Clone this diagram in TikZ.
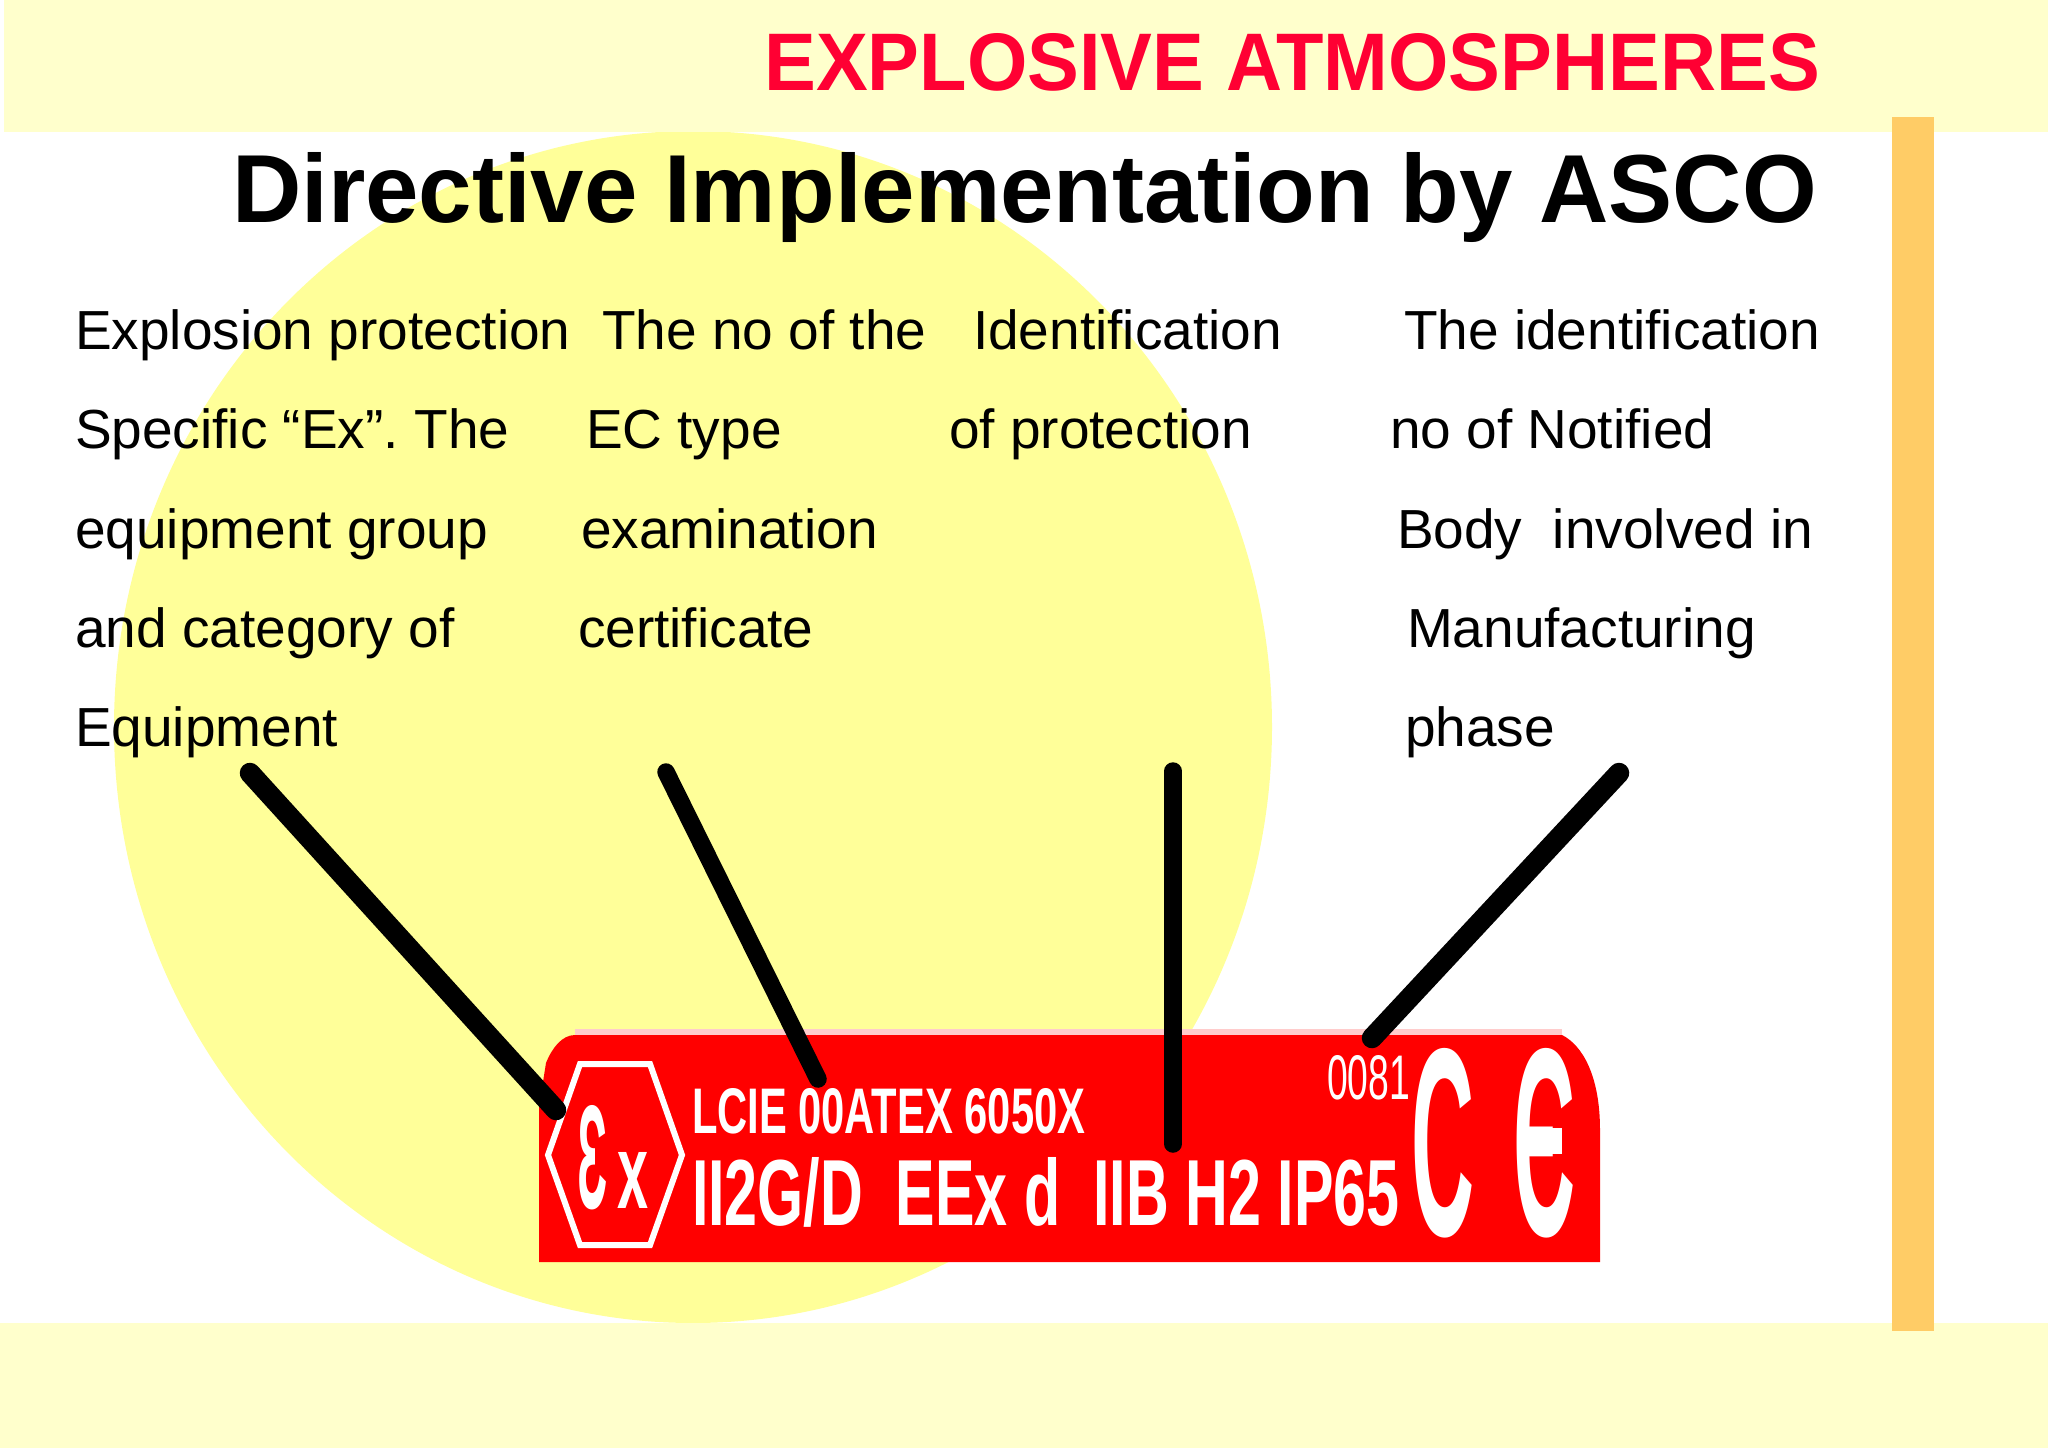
\documentclass[tikz,border=0pt]{standalone}
\usepackage{fontspec}
\setmainfont{Liberation Sans}
\definecolor{BandYellow}{HTML}{FFFFCC}
\definecolor{DiscYellow}{HTML}{FFFF99}
\definecolor{BarOrange}{HTML}{FFCC66}
\definecolor{TitleRed}{HTML}{FF0033}
\definecolor{PlateRed}{HTML}{FF0000}
\definecolor{PlatePink}{HTML}{FFCCCC}
\newcommand{\platetext}[3]{\resizebox{#1cm}{#2cm}{#3}}
\frenchspacing
\begin{document}
\begin{tikzpicture}[
      x=0.01cm, y=-0.01cm,
      every node/.style={inner sep=0pt, outer sep=0pt},
      heading/.style={anchor=base east, font=\bfseries, text=TitleRed},
      subheading/.style={anchor=base east, font=\bfseries},
      bodytext/.style={anchor=base west, font=\fontsize{15.65pt}{18pt}\selectfont},
      marking/.style={anchor=north west, text=white},
      pointer/.style={line width=0.175cm, black, line cap=round},
      heavypointer/.style={pointer, line width=0.205cm}
    ]
      \useasboundingbox (0,0) rectangle (2048,1448);

      % Backdrop
      \fill[DiscYellow] (693,727) ellipse [x radius=579, y radius=596];
      \fill[BandYellow] (4,0) rectangle (2048,132);
      \fill[BandYellow] (0,1323) rectangle (2048,1448);
      \fill[BarOrange] (1892,117) rectangle (1934,1331);

      % Titles
      \node[heading] (heading) at (1820,90) {\platetext{10.55}{0.57}{EXPLOSIVE ATMOSPHERES}};
      \node[subheading] (subheading) at (1817,222) {\platetext{15.84}{0.70}{Directive Implementation by ASCO}};

      % Column one
      \node[bodytext] (groupa) at (75,349) {Explosion protection};
      \node[bodytext] (groupb) at (75,448) {Specific “Ex”. The};
      \node[bodytext] (groupc) at (75,548) {equipment group};
      \node[bodytext] (groupd) at (75,647) {and category of};
      \node[bodytext] (groupe) at (75,746) {Equipment};

      % Column two
      \node[bodytext] (certa) at (602,349) {The no of the};
      \node[bodytext] (certb) at (586,448) {EC type};
      \node[bodytext] (certc) at (581,548) {examination};
      \node[bodytext] (certd) at (578,647) {certificate};

      % Column three
      \node[bodytext] (prota) at (973,349) {Identification};
      \node[bodytext] (protb) at (949,448) {of protection};

      % Column four
      \node[bodytext] (bodya) at (1404,349) {The identification};
      \node[bodytext] (bodyb) at (1390,448) {no of Notified};
      \node[bodytext] (bodyc) at (1397,548) {Body\ \ involved in};
      \node[bodytext] (bodyd) at (1407,647) {Manufacturing};
      \node[bodytext] (bodye) at (1405,746) {phase};

      % Plate
      \fill[PlatePink] (575,1029) rectangle (1562,1036);
      \fill[PlateRed] (539,1262) -- (539,1107) -- (546,1063) .. controls (552,1048) and (562,1035) .. (575,1035)
        -- (1562,1035) .. controls (1582,1045) and (1600,1075) .. (1600,1130) -- (1600,1262) -- cycle;
      \draw[white, line width=0.06cm] (548,1155) -- (580,1064) -- (650,1064) -- (682,1155)
        -- (650,1245) -- (580,1245) -- cycle;
      \node[marking] (exmark) at (577,1105) {\platetext{0.30}{1.03}{\bfseries Ɛ}};
      \node[marking] (exx) at (617,1152) {\platetext{0.31}{0.56}{\bfseries x}};
      \node[marking] (certno) at (692,1088) {\platetext{3.93}{0.45}{\bfseries LCIE 00ATEX 6050X}};
      \node[marking] (codes) at (692,1157) {\platetext{7.07}{0.68}{\bfseries II2G/D\ \ EEx d\ \ IIB H2 IP65}};
      \node[marking] (bodyno) at (1327,1055) {\platetext{0.83}{0.44}{0081}};
      \node[marking] (cemarkc) at (1411,1048) {\platetext{0.63}{1.87}{\bfseries C}};
      \node[marking] (cemarke) at (1513,1048) {\platetext{0.62}{1.87}{\bfseries Є}};
      \fill[white] (1530,1128) rectangle (1562,1154);

      % Pointers
      \coordinate (starta) at (250,773);
      \coordinate (startb) at (666,772);
      \coordinate (startc) at (1173,771);
      \coordinate (startd) at (1619,773);
      \coordinate (enda) at (556,1110);
      \coordinate (endb) at (818,1079);
      \coordinate (endc) at (1173,1144);
      \coordinate (endd) at (1372,1038);
      \draw[heavypointer] (starta) -- (enda);
      \draw[pointer] (startb) -- (endb);
      \draw[pointer] (startc) -- (endc);
      \draw[heavypointer] (startd) -- (endd);

    \end{tikzpicture}
\end{document}
